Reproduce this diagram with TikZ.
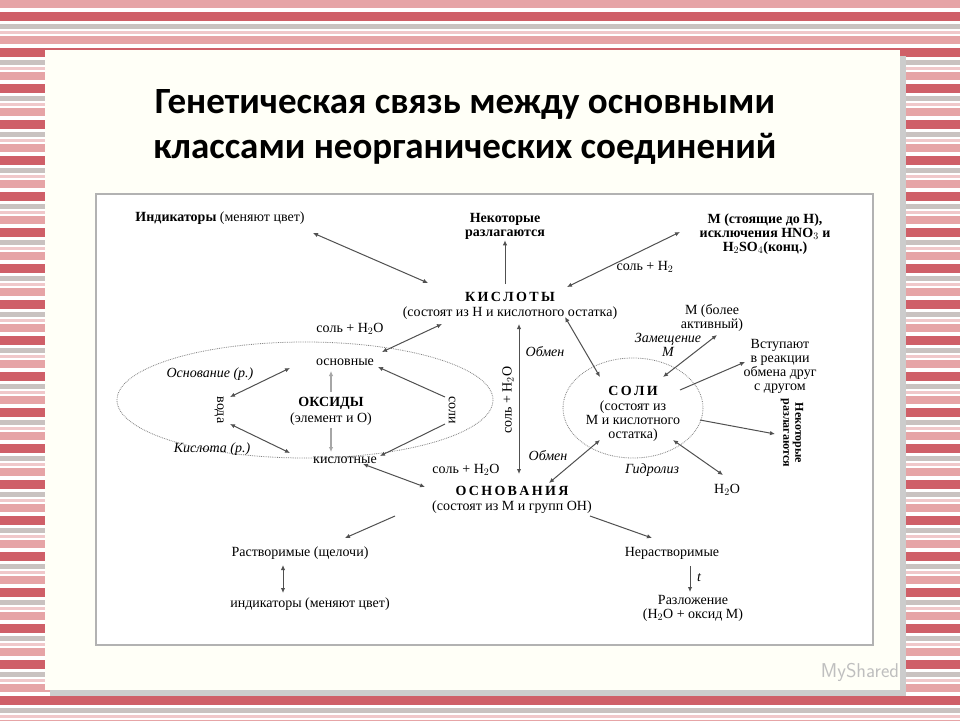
\documentclass[tikz,border=0pt]{standalone}
\usepackage{fontspec}
\setmainfont{Liberation Serif}
\newfontfamily\titlefont{Carlito}
\usetikzlibrary{arrows.meta}
\definecolor{pk}{HTML}{E6A4A6}
\definecolor{rd}{HTML}{CF5F68}
\definecolor{gy}{HTML}{C9C2C0}
\definecolor{ln}{HTML}{505050}
\tikzset{
 lbl/.style={font=\fontsize{14}{14}\selectfont, align=center, inner sep=1pt},
 bl/.style={font=\fontsize{14}{14}\selectfont\bfseries, align=center, inner sep=1pt},
 it/.style={font=\fontsize{14}{14}\selectfont\itshape, align=center, inner sep=1pt},
 ar/.style={draw=ln, line width=1pt, -{Latex[length=5pt,width=4.5pt]}},
 dar/.style={draw=ln, line width=1pt, {Latex[length=5pt,width=4.5pt]}-{Latex[length=5pt,width=4.5pt]}},
 gar/.style={draw=gray!70, line width=1.4pt, -{Latex[length=5pt,width=4.5pt]}},
}
\begin{document}
\begin{tikzpicture}[x=1pt,y=-1pt]
\useasboundingbox (0,0) rectangle (960,720);
\fill[white] (0,0) rectangle (960,720);
\foreach \y in {0,36,...,720}{
 \fill[pk] (0,\y) rectangle (960,\y+8);
 \fill[rd] (0,\y+12) rectangle (960,\y+21);
 \fill[gy] (0,\y+24) rectangle (960,\y+29);
 \fill[pk!60] (0,\y+31) rectangle (960,\y+34);
}
% frame
\fill[gray!40] (50,56) rectangle (906,696);
\fill[white!97!yellow] (45,50) rectangle (900,690);
\node[font=\titlefont\bfseries\fontsize{37}{45}\selectfont, align=center] (title) at (465,127) {Генетическая связь между основными\\классами неорганических соединений};
% diagram box
\draw[gray!60, line width=1.5pt, fill=white] (96,194) rectangle (873,645);
% nodes
\node[lbl] (ind) at (220,218) {\textbf{Индикаторы} (меняют цвет)};
\node[bl] (raz) at (505,226) {Некоторые\\разлагаются};
\node[bl] (met) at (765,234) {М (стоящие до Н),\\исключения HNO$_3$ и\\H$_2$SO$_4$(конц.)};
\node[bl] (kis) at (510,297) {К\,И\,С\,Л\,О\,Т\,Ы};
\node[lbl] (kis2) at (510,313) {(состоят из Н и кислотного остатка)};
\draw[gray, densely dotted, line width=0.8pt] (305,400) ellipse [x radius=188, y radius=58];
\node[lbl] (osnox) at (345,362) {основные};
\node[bl] (oks) at (331,403) {ОКСИДЫ};
\node[lbl] (oks2) at (331,419) {(элемент и О)};
\node[lbl] (kislox) at (345,460) {кислотные};
\node[lbl, rotate=-90] (voda) at (219,410) {вода};
\node[lbl, rotate=-90] (soli1) at (452,410) {соли};
\node[it] (lb1) at (210,374) {Основание (р.)};
\node[it] (lb2) at (212,449) {Кислота (р.)};
\node[lbl] (lb3) at (350,329) {соль + H$_2$O};
\node[lbl] (lb4) at (466,470) {соль + H$_2$O};
\node[lbl, rotate=90] (lb5) at (508,400) {соль + H$_2$O};
\node[lbl] (lb6) at (645,267) {соль + H$_2$};
\node[bl] (osn) at (512,491) {О\,С\,Н\,О\,В\,А\,Н\,И\,Я};
\node[lbl] (osn2) at (512,507) {(состоят из М и групп ОН)};
\draw[gray, densely dotted, line width=0.8pt] (633,408) ellipse [x radius=70, y radius=50];
\node[bl] (sol) at (633,391) {С\,О\,Л\,И};
\node[lbl] (sol2) at (633,421) {(состоят из\\М и кислотного\\остатка)};
\node[it] (lb7) at (545,352) {Обмен};
\node[it] (lb8) at (548,456) {Обмен};
\node[it] (lb9) at (668,345) {Замещение\\М};
\node[it] (lb10) at (652,470) {Гидролиз};
\node[lbl] (mb) at (712,318) {М (более\\активный)};
\node[lbl] (vst) at (780,366) {Вступают\\в реакции\\обмена друг\\с другом};
\node[bl, rotate=-90, font=\fontsize{12}{12}\selectfont\bfseries] (nr) at (792,433) {Некоторые\\разлагаются};
\node[lbl] (h2o) at (727,490) {H$_2$O};
\node[lbl] (rastv) at (300,553) {Растворимые (щелочи)};
\node[lbl] (nerast) at (672,553) {Нерастворимые};
\node[lbl] (ind2) at (310,604) {индикаторы (меняют цвет)};
\node[lbl] (razl) at (693,608) {Разложение\\(H$_2$O + оксид М)};
\node[it] (tt) at (699,578) {t};
% connectors
\draw[dar] (313,233) -- (428,283);
\draw[ar] (505,284) -- (raz.south);
\draw[dar] (680,232) -- (567,287);
\draw[dar] (382,352) -- (442,324);
\draw[dar] (290,368) -- (230,397);
\draw[dar] (230,424) -- (290,453);
\draw[ar] (445,397) -- (378,367);
\draw[ar] (445,424) -- (380,456);
\draw[gar] (331,392) -- (331,371);
\draw[gar] (331,428) -- (331,452);
\draw[dar] (363,464) -- (425,487);
\draw[dar] (519,324) -- (519,474);
\draw[dar] (565,317) -- (600,377);
\draw[dar] (663,377) -- (717,335);
\draw[ar] (680,390) -- (745,362);
\draw[ar] (700,420) -- (775,434);
\draw[dar] (673,440) -- (723,475);
\draw[dar] (600,440) -- (549,483);
\draw[ar] (395,516) -- (345,538);
\draw[ar] (590,516) -- (652,538);
\draw[dar] (283,565) -- (283,593);
\draw[ar] (690,566) -- (690,592);
\node[font=\sffamily\fontsize{20}{20}\selectfont, text=gray!50] (wm) at (860,672) {MyShared};
\end{tikzpicture}
\end{document}
